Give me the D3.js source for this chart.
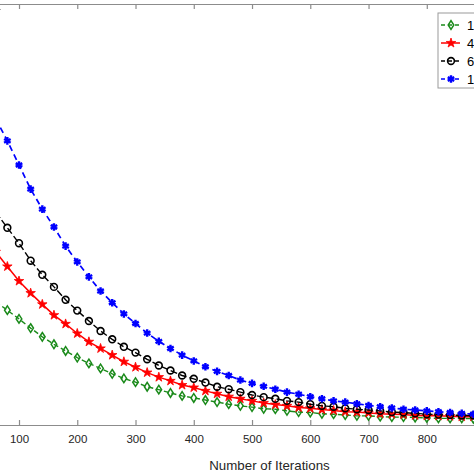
<!DOCTYPE html>
<meta charset="utf-8">
<script src="https://d3js.org/d3.v7.min.js"></script>
<style>
  body { margin: 0; background: #fff; }
  svg { display: block; font-family: "Liberation Sans", Arial, sans-serif; }
</style>
<body>
<script>

// iterations where the markers sit (every 20)
var iterations = [60, 80, 100, 120, 140, 160, 180, 200, 220, 240, 260, 280, 300, 320, 340,
                  360, 380, 400, 420, 440, 460, 480, 500, 520, 540, 560, 580, 600, 620, 640,
                  660, 680, 700, 720, 740, 760, 780, 800, 820, 840, 860, 880, 900]

var green_vals = [0.296, 0.276, 0.255, 0.233, 0.212, 0.194, 0.178, 0.162, 0.148, 0.136, 0.123, 0.112, 0.103, 0.092, 0.085,
                  0.077, 0.070, 0.065, 0.060, 0.055, 0.050, 0.046, 0.043, 0.039, 0.038, 0.034, 0.031, 0.030, 0.027, 0.026,
                  0.024, 0.022, 0.022, 0.020, 0.019, 0.019, 0.018, 0.017, 0.016, 0.016, 0.016, 0.015, 0.015]
var red_vals   = [0.416, 0.381, 0.346, 0.317, 0.290, 0.264, 0.243, 0.220, 0.200, 0.184, 0.168, 0.152, 0.139, 0.126, 0.115,
                  0.106, 0.096, 0.090, 0.082, 0.075, 0.068, 0.063, 0.058, 0.053, 0.049, 0.046, 0.042, 0.040, 0.037, 0.035,
                  0.032, 0.031, 0.029, 0.027, 0.026, 0.025, 0.023, 0.022, 0.022, 0.021, 0.020, 0.020, 0.019]
var black_vals = [0.512, 0.474, 0.437, 0.395, 0.361, 0.332, 0.301, 0.275, 0.250, 0.226, 0.206, 0.188, 0.174, 0.158, 0.143,
                  0.131, 0.119, 0.111, 0.102, 0.092, 0.086, 0.079, 0.072, 0.067, 0.063, 0.058, 0.055, 0.050, 0.046, 0.044,
                  0.040, 0.038, 0.036, 0.034, 0.031, 0.030, 0.028, 0.026, 0.025, 0.024, 0.023, 0.023, 0.022]
var blue_vals  = [0.736, 0.683, 0.625, 0.567, 0.519, 0.476, 0.430, 0.392, 0.356, 0.322, 0.294, 0.267, 0.244, 0.221, 0.201,
                  0.184, 0.168, 0.154, 0.140, 0.129, 0.119, 0.108, 0.100, 0.093, 0.086, 0.079, 0.074, 0.068, 0.063, 0.058,
                  0.055, 0.051, 0.047, 0.044, 0.041, 0.038, 0.036, 0.034, 0.032, 0.030, 0.028, 0.026, 0.025]

var legend_labels = ["100", "400", "600", "1000"]
var x_ticks = [100, 200, 300, 400, 500, 600, 700, 800]
var y_ticks = [0, 0.5, 1]

var width = 474
var height = 474

// the picture is a crop: the y axis sits just off the left edge, the right axis off the right edge
var x = d3.scaleLinear().domain([60, 1000]).range([-4.3, 543.3])
var y = d3.scaleLinear().domain([0, 1.012]).range([425, 4])

var svg = d3.select("body").append("svg")
            .attr("width", width)
            .attr("height", height)

var axisColor = "#8c8c8c"

var series = [
  { vals: green_vals, color: "#1a8a1a", dash: "5,3",  lw: 1.4, marker: "diamond" },
  { vals: red_vals,   color: "#ff0000", dash: null,   lw: 1.5, marker: "star" },
  { vals: black_vals, color: "#000000", dash: "7,3",  lw: 1.4, marker: "circle" },
  { vals: blue_vals,  color: "#0000ff", dash: "6,4",  lw: 1.7, marker: "asterisk" }
]

function drawMarker(g, kind, color) {
  if (kind == "diamond") {
    g.append("path").attr("d", "M0,-4.3L2.8,0L0,4.3L-2.8,0Z")
     .attr("fill", "none").attr("stroke", color).attr("stroke-width", 1.5)
  } else if (kind == "star") {
    g.append("path").attr("d", d3.symbol(d3.symbolStar, 28)())
     .attr("fill", color).attr("stroke", color).attr("stroke-width", 0.8)
  } else if (kind == "circle") {
    g.append("circle").attr("r", 3.4)
     .attr("fill", "none").attr("stroke", color).attr("stroke-width", 1.6)
  } else {
    g.append("path").attr("d", d3.symbol(d3.symbolAsterisk, 40)())
     .attr("fill", "none").attr("stroke", color).attr("stroke-width", 2.4)
  }
}

// axes (tick labels of the y axis fall outside the crop)
var bottom = svg.append("g")
    .attr("transform", "translate(0," + y(0) + ")")
    .call(d3.axisBottom(x).tickValues(x_ticks).tickSizeInner(-5).tickSizeOuter(0).tickPadding(10))
var top_ax = svg.append("g")
    .attr("transform", "translate(0," + y.range()[1] + ")")
    .call(d3.axisTop(x).tickValues(x_ticks).tickSizeInner(-5).tickSizeOuter(0).tickFormat(""))
var left = svg.append("g")
    .attr("transform", "translate(" + x(60) + ",0)")
    .call(d3.axisLeft(y).tickValues(y_ticks).tickSizeInner(-5).tickSizeOuter(0).tickFormat(""))

;[bottom, top_ax, left].forEach(function(a) {
  a.select(".domain").attr("stroke", axisColor).attr("stroke-width", 1.2)
  a.selectAll(".tick line").attr("stroke", axisColor).attr("stroke-width", 1.2)
  a.selectAll(".tick text").attr("fill", "#262626").style("font-size", "11.5px")
   .style("font-family", "'Liberation Sans', Arial, sans-serif")
})

svg.append("text")
   .attr("x", (x.range()[0] + x.range()[1]) / 2)
   .attr("y", 470)
   .style("text-anchor", "middle")
   .style("font-size", "13.3px")
   .attr("fill", "#262626")
   .text("Number of Iterations")

// curves
series.forEach(function(s) {
  var line = d3.line()
      .x(function(d, i) { return x(iterations[i]) })
      .y(function(d) { return y(d) })
  svg.append("path")
     .attr("d", line(s.vals))
     .attr("fill", "none")
     .attr("stroke", s.color)
     .attr("stroke-width", s.lw)
     .attr("stroke-dasharray", s.dash)

  s.vals.forEach(function(v, i) {
    var g = svg.append("g").attr("transform", "translate(" + x(iterations[i]) + "," + y(v) + ")")
    drawMarker(g, s.marker, s.color)
  })
})

// legend (cut by the right edge in the original)
var leg = svg.append("g").attr("transform", "translate(438,13)")
leg.append("rect").attr("width", 90).attr("height", 75)
   .attr("fill", "#fff").attr("stroke", "#9a9a9a").attr("stroke-width", 1)

series.forEach(function(s, i) {
  var ly = 12 + i * 18
  leg.append("line").attr("x1", 3).attr("x2", 22).attr("y1", ly).attr("y2", ly)
     .attr("stroke", s.color).attr("stroke-width", s.lw)
     .attr("stroke-dasharray", s.dash ? "4,3" : null)
  var g = leg.append("g").attr("transform", "translate(13," + ly + ")")
  drawMarker(g, s.marker, s.color)
  leg.append("text").attr("x", 29).attr("y", ly + 5)
     .style("font-size", "13px").attr("fill", "#000")
     .text(legend_labels[i])
})

</script>
</body>
